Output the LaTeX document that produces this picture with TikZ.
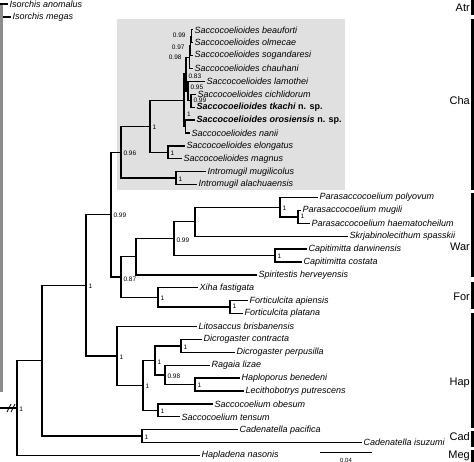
\documentclass[tikz,border=0pt]{standalone}
\usepackage{fontspec}
\setmainfont{Liberation Sans}
\definecolor{boxgray}{RGB}{224,224,224}
\definecolor{rootgray}{RGB}{140,140,140}
\newcommand\brn[2]{\draw[br] (#1) |- (#2);}
\begin{document}
\begin{tikzpicture}[x=1pt,y=-1pt,
  br/.style={line width=1.35pt},
  tax/.style={anchor=west, inner xsep=1.5pt, inner ysep=0pt, font=\fontsize{9}{10}\selectfont\itshape},
  sup/.style={anchor=west, inner sep=0.3pt, font=\fontsize{6.5}{7}\selectfont},
  supl/.style={anchor=east, inner sep=0.3pt, font=\fontsize{6.5}{7}\selectfont},
  clade/.style={anchor=east, inner sep=0pt, font=\fontsize{11}{12}\selectfont},
  bar/.style={line width=2.6pt}]
\useasboundingbox (0,0) rectangle (474,462);
% shaded Cha clade
\fill[boxgray] (117,19) rectangle (345,190);
% tips
\node[tax] (t1) at (8,4) {Isorchis anomalus};
\node[tax] (t2) at (11,16.9) {Isorchis megas};
\node[tax] (t3) at (193,29.8) {Saccocoelioides beauforti};
\node[tax] (t4) at (193,42.7) {Saccocoelioides olmecae};
\node[tax] (t5) at (193,55.6) {Saccocoelioides sogandaresi};
\node[tax] (t6) at (193,68.5) {Saccocoelioides chauhani};
\node[tax] (t7) at (205,81.4) {Saccocoelioides lamothei};
\node[tax] (t8) at (196,94.3) {Saccocoelioides cichlidorum};
\node[tax] (t9) at (195,107.2) {\bfseries Saccocoelioides tkachi \upshape n. sp.};
\node[tax] (t10) at (195,120.1) {\bfseries Saccocoelioides orosiensis \upshape n. sp.};
\node[tax] (t11) at (190,133.0) {Saccocoelioides nanii};
\node[tax] (t12) at (185,145.9) {Saccocoelioides elongatus};
\node[tax] (t13) at (182,158.8) {Saccocoelioides magnus};
\node[tax] (t14) at (206,171.7) {Intromugil mugilicolus};
\node[tax] (t15) at (197,184.6) {Intromugil alachuaensis};
\node[tax] (t16) at (318,197.5) {Parasaccocoelium polyovum};
\node[tax] (t17) at (301,210.4) {Parasaccocoelium mugili};
\node[tax] (t18) at (310,223.3) {Parasaccocoelium haematocheilum};
\node[tax] (t19) at (348,236.2) {Skrjabinolecithum spasskii};
\node[tax] (t20) at (307,249.1) {Capitimitta darwinensis};
\node[tax] (t21) at (302,262.0) {Capitimitta costata};
\node[tax] (t22) at (257,274.9) {Spiritestis herveyensis};
\node[tax] (t23) at (198,287.8) {Xiha fastigata};
\node[tax] (t24) at (248,300.7) {Forticulcita apiensis};
\node[tax] (t25) at (243,313.6) {Forticulcita platana};
\node[tax] (t26) at (197,326.5) {Litosaccus brisbanensis};
\node[tax] (t27) at (202,339.4) {Dicrogaster contracta};
\node[tax] (t28) at (235,352.3) {Dicrogaster perpusilla};
\node[tax] (t29) at (210,365.2) {Ragaia lizae};
\node[tax] (t30) at (240,378.1) {Haploporus benedeni};
\node[tax] (t31) at (244,391.0) {Lecithobotrys putrescens};
\node[tax] (t32) at (213,403.9) {Saccocoelium obesum};
\node[tax] (t33) at (180,416.8) {Saccocoelium tensum};
\node[tax] (t34) at (238,429.7) {Cadenatella pacifica};
\node[tax] (t35) at (362,442.6) {Cadenatella isuzumi};
\node[tax] (t36) at (200,455.5) {Hapladena nasonis};
% internal nodes
\coordinate (A) at (17,408.12);
\coordinate (B) at (42,360.73);
\coordinate (Cad) at (142,436.15);
\coordinate (C) at (86,285.31);
\coordinate (D) at (111,214.69);
\coordinate (Cha) at (121,152.25);
\coordinate (S0) at (150,126.35);
\coordinate (EM) at (168,152.35);
\coordinate (Intro) at (176,178.15);
\coordinate (S1) at (184,100.35);
\coordinate (N3) at (186,74.14);
\coordinate (Agrp) at (189.5,57.21);
\coordinate (n097) at (190.5,45.93);
\coordinate (n099) at (191.5,36.25);
\coordinate (N2) at (188,91.08);
\coordinate (N1) at (191,100.75);
\coordinate (N4) at (185.5,126.55);
\coordinate (E) at (121,277.12);
\coordinate (F) at (136,256.76);
\coordinate (G) at (174,238.62);
\coordinate (H) at (195,221.69);
\coordinate (Par) at (280,207.18);
\coordinate (Par2) at (298,216.85);
\coordinate (Cap) at (275,255.55);
\coordinate (For) at (158,297.48);
\coordinate (Fort) at (230,307.15);
\coordinate (Hap) at (117,355.93);
\coordinate (I) at (143,385.36);
\coordinate (J) at (155,360.36);
\coordinate (Dic) at (181,345.85);
\coordinate (K) at (165,374.88);
\coordinate (Hpl) at (195,384.55);
\coordinate (Sac) at (158,410.35);
% root
\draw[rootgray, line width=2.7pt] (1.35,4) -- (1.35,392);
\coordinate (r1) at (0,4);
\coordinate (r2) at (2.7,16.9);
\coordinate (R) at (0,408.12);
\draw[br] (r1) -- (t1.west);
\draw[br] (r2) -- (t2.west);
\draw[br] (R) -- (A);
\draw[line width=0.8pt] (7,412) -- (11,404) (11,412) -- (15,404);
% edges
\brn{A}{B} \brn{A}{t36.west}
\brn{B}{C} \brn{B}{Cad}
\brn{Cad}{t34.west} \brn{Cad}{t35.west}
\brn{C}{D} \brn{C}{Hap}
\brn{D}{Cha} \brn{D}{E}
\brn{Cha}{S0} \brn{Cha}{Intro}
\brn{S0}{S1} \brn{S0}{EM}
\brn{EM}{t12.west} \brn{EM}{t13.west}
\brn{Intro}{t14.west} \brn{Intro}{t15.west}
\brn{S1}{N3} \brn{S1}{N4}
\brn{N3}{Agrp} \brn{N3}{N2}
\brn{Agrp}{n097} \brn{Agrp}{t6.west}
\brn{n097}{n099} \brn{n097}{t5.west}
\brn{n099}{t3.west} \brn{n099}{t4.west}
\brn{N2}{t7.west} \brn{N2}{N1}
\brn{N1}{t8.west} \brn{N1}{t9.west}
\brn{N4}{t10.west} \brn{N4}{t11.west}
\brn{E}{F} \brn{E}{For}
\brn{F}{G} \brn{F}{t22.west}
\brn{G}{H} \brn{G}{Cap}
\brn{H}{Par} \brn{H}{t19.west}
\brn{Par}{t16.west} \brn{Par}{Par2}
\brn{Par2}{t17.west} \brn{Par2}{t18.west}
\brn{Cap}{t20.west} \brn{Cap}{t21.west}
\brn{For}{t23.west} \brn{For}{Fort}
\brn{Fort}{t24.west} \brn{Fort}{t25.west}
\brn{Hap}{t26.west} \brn{Hap}{I}
\brn{I}{J} \brn{I}{Sac}
\brn{J}{Dic} \brn{J}{K}
\brn{Dic}{t27.west} \brn{Dic}{t28.west}
\brn{K}{t29.west} \brn{K}{Hpl}
\brn{Hpl}{t30.west} \brn{Hpl}{t31.west}
\brn{Sac}{t32.west} \brn{Sac}{t33.west}
% support values
\node[sup] (lA) at (19,409) {1};
\node[sup] (lCad) at (144,437) {1};
\node[sup] (lC) at (88,286) {1};
\node[sup] (lD) at (113,215) {0.99};
\node[sup] (lCha) at (123,153) {0.96};
\node[sup] (lS0) at (152,127) {1};
\node[sup] (lEM) at (170,153) {1};
\node[sup] (lIntro) at (178,179) {1};
\node[sup] (lN3) at (188,76) {0.83};
\node[sup] (lN2) at (190,87.5) {0.95};
\node[sup] (lN1) at (193,100) {0.99};
\node[sup] (lN4) at (186.5,114) {1};
\node[supl] (ln099) at (186,35) {0.99};
\node[supl] (ln097) at (185,47) {0.97};
\node[supl] (lAgrp) at (182,57) {0.98};
\node[sup] (lE) at (123,279) {0.87};
\node[sup] (lG) at (176,240) {0.99};
\node[sup] (lPar) at (282,208) {1};
\node[sup] (lPar2) at (300,216) {1};
\node[sup] (lCap) at (277,256) {1};
\node[sup] (lFor) at (160,298) {1};
\node[sup] (lFort) at (232,306) {1};
\node[sup] (lHap) at (119,357) {1};
\node[sup] (lI) at (145,386) {1};
\node[sup] (lJ) at (157,362) {1};
\node[sup] (lDic) at (183,347) {1};
\node[sup] (lK) at (167,376) {0.98};
\node[sup] (lHpl) at (197,385) {1};
\node[sup] (lSac) at (160,411) {1};
% clade bars and labels
\draw[bar] (472.7,0) -- (472.7,15);
\draw[bar] (472.7,19) -- (472.7,190);
\draw[bar] (472.7,193) -- (472.7,277);
\draw[bar] (472.7,282) -- (472.7,309);
\draw[bar] (472.7,313) -- (472.7,428);
\draw[bar] (472.7,431) -- (472.7,447);
\draw[bar] (472.7,450) -- (472.7,462);
\node[clade] (cAtr) at (470,8) {Atr};
\node[clade] (cCha) at (470,101) {Cha};
\node[clade] (cWar) at (470,247) {War};
\node[clade] (cFor) at (470,297) {For};
\node[clade] (cHap) at (470,383) {Hap};
\node[clade] (cCad) at (470,437) {Cad};
\node[clade] (cMeg) at (470,456) {Meg};
% scale bar
\coordinate (sb1) at (320,452);
\coordinate (sb2) at (372,452);
\draw[line width=0.8pt] (sb1) -- (sb2);
\node[font=\fontsize{6}{7}\selectfont, inner sep=0pt] (sbl) at (346,460) {0.04};
\end{tikzpicture}
\end{document}
